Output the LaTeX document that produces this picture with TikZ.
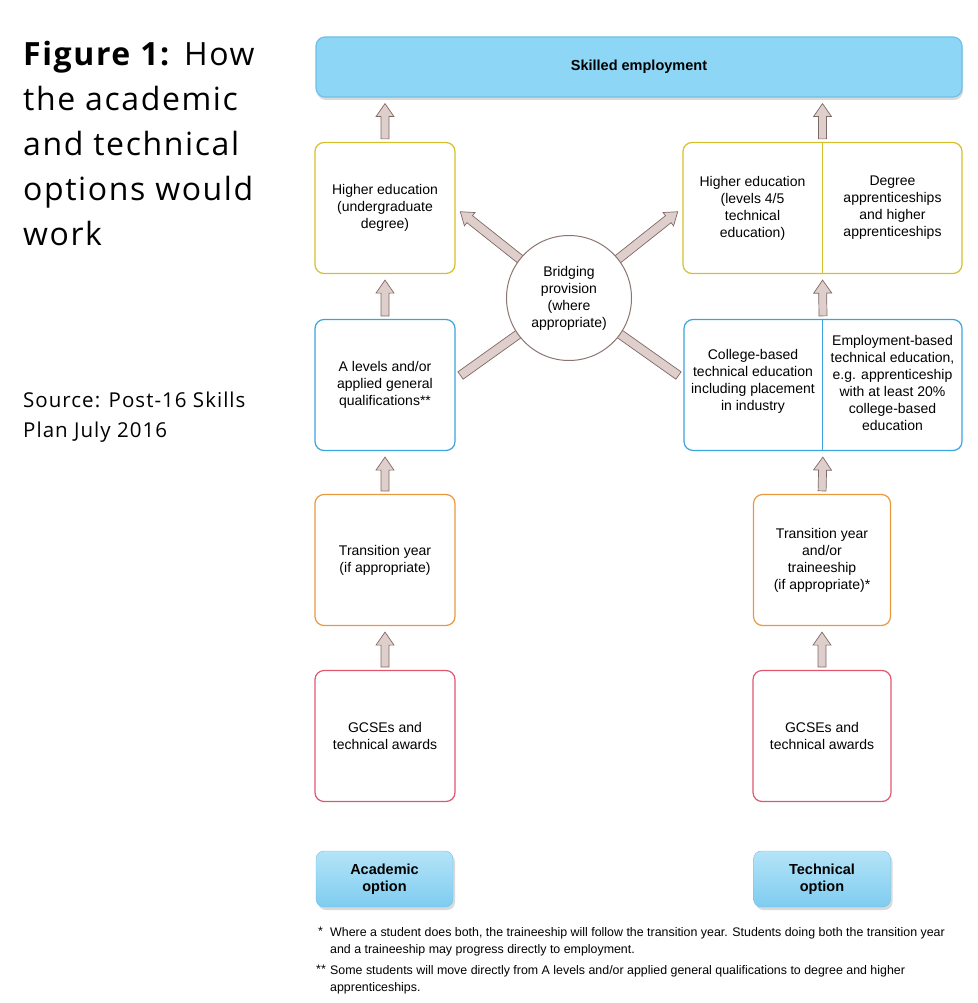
\documentclass[tikz,border=0pt]{standalone}
\usepackage{fontspec}
\setmainfont{Liberation Sans}
\newfontfamily\capfont[LetterSpace=5]{Open Sans}
\usetikzlibrary{positioning,calc,shadows}

\definecolor{skyfill}{RGB}{142,214,246}
\definecolor{skyline}{RGB}{112,192,232}
\definecolor{optop}{RGB}{180,228,248}
\definecolor{opbot}{RGB}{126,204,240}
\definecolor{heyel}{RGB}{214,192,42}
\definecolor{alblue}{RGB}{58,164,220}
\definecolor{trorange}{RGB}{234,152,62}
\definecolor{gcred}{RGB}{224,86,110}
\definecolor{arrfill}{RGB}{222,207,204}
\definecolor{arrline}{RGB}{128,104,100}
\definecolor{circline}{RGB}{140,116,112}

\tikzset{
  stage/.style={draw, rounded corners=9pt, line width=1.2pt, minimum width=140pt,
    minimum height=131pt, align=center, font=\fontsize{14}{17}\selectfont},
  cell/.style={align=center, font=\fontsize{14}{17}\selectfont},
  optbox/.style={rounded corners=8pt, draw=skyline, line width=0.4pt, top color=optop,
    bottom color=opbot, minimum width=137pt, minimum height=56pt, align=center,
    font=\bfseries\fontsize{14.5}{17}\selectfont,
    drop shadow={shadow xshift=2pt, shadow yshift=-3pt, opacity=0.3}},
  note/.style={anchor=north west, align=left, inner sep=0pt, font=\fontsize{12.4}{17}\selectfont},
  fatarrow/.style n args={5}{draw=arrline, fill=arrfill, line width=0.7pt,
    to path={let \p1=($(\tikztotarget)-(\tikztostart)$), \n1={atan2(\y1,\x1)},
      \n2={veclen(\x1,\y1)} in
      {[shift={(\tikztostart)}, rotate=\n1]
        (#4,-#1) -- ({\n2*1pt-#5-#3},-#1) -- ({\n2*1pt-#5-#3},-#2)
        -- ({\n2*1pt-#5},0pt) -- ({\n2*1pt-#5-#3},#2) -- ({\n2*1pt-#5-#3},#1)
        -- (#4,#1) -- cycle}}},
  uparr/.style={fatarrow={4pt}{9pt}{13pt}{3pt}{6pt}},
  diagarr/.style={fatarrow={4.5pt}{8.5pt}{12pt}{#1}{6pt}},
  diagarr/.default=0pt
}

\begin{document}
\begin{tikzpicture}[x=1pt,y=-1pt]
\useasboundingbox (0,0) rectangle (977,1003);

% caption and source
\node[anchor=north west, align=left, inner sep=0pt, font=\capfont\fontsize{32}{45}\selectfont]
  (cap) at (23,41) {\textbf{Figure 1:} How\\the academic\\and technical\\options would\\work};
\node[anchor=north west, align=left, inner sep=0pt, font=\capfont\fontsize{20.5}{30}\selectfont]
  (src) at (23,392) {Source: Post-16 Skills\\Plan July 2016};

% top
\node[stage, draw=skyline, fill=skyfill, minimum width=646pt, minimum height=60pt,
  font=\bfseries\fontsize{14.5}{17}\selectfont,
  drop shadow={shadow xshift=1pt, shadow yshift=-3pt, opacity=0.3}] (emp) at (639,67) {Skilled employment};

% academic column
\node[stage, draw=heyel] (heA) at (385,208) {Higher education\\(undergraduate\\degree)};
\node[stage, draw=alblue] (aLev) at (385,385) {A levels and/or\\applied general\\qualifications**};
\node[stage, draw=trorange] (trA) at (385,560) {Transition year\\(if appropriate)};
\node[stage, draw=gcred] (gcA) at (385,736) {GCSEs and\\technical awards};

% technical column
\node[stage, draw=heyel, minimum width=279pt] (heT) at (822.5,208) {};
\draw[heyel, line width=1.2pt] (heT.north) -- (heT.south);
\node[cell] (heT1) at (752.5,208) {Higher education\\(levels 4/5\\technical\\education)};
\node[cell] (heT2) at (892.5,208) {Degree\\apprenticeships\\and higher\\apprenticeships};
\node[stage, draw=alblue, minimum width=278pt] (colT) at (823,385) {};
\draw[alblue, line width=1.2pt] (colT.north -| heT.north) -- (colT.south -| heT.north);
\node[cell] (colT1) at (753,381) {College-based\\technical education\\including placement\\in industry};
\node[cell] (colT2) at (892.5,383) {Employment-based\\technical education,\\e.g. apprenticeship\\with at least 20\%\\college-based\\education};
\node[stage, draw=trorange, minimum width=137pt] (trT) at (822,560) {Transition year\\and/or\\traineeship\\(if appropriate)*};
\node[stage, draw=gcred, minimum width=138pt] (gcT) at (822,736) {GCSEs and\\technical awards};

% options
\node[optbox] (acad) at (384.5,879) {Academic\\option};
\node[optbox] (tech) at (822,879) {Technical\\option};

% up arrows
\coordinate (eA) at (heA.north |- emp.south);
\coordinate (eT) at (heT.north |- emp.south);
\foreach \a/\b in {heA.north/eA, aLev.north/heA.south, trA.north/aLev.south, gcA.north/trA.south,
  heT.north/eT, colT.north/heT.south, trT.north/colT.south, gcT.north/trT.south}
  \draw[uparr] (\a) to (\b);

% bridging
\coordinate (bc) at (569,298);
\draw[diagarr] (bc) to (heA.east);
\draw[diagarr] (bc) to (heT.west);
\draw[diagarr=6pt] ($(aLev.east)+(0,-6)$) to (bc);
\draw[diagarr=6pt] ($(colT.west)+(0,-6)$) to (bc);
\node[circle, draw=circline, fill=white, line width=1pt, minimum size=125pt, align=center,
  font=\fontsize{14}{17}\selectfont] (bridge) at (bc) {Bridging\\provision\\(where\\appropriate)};

% footnotes
\node[note] (s1) at (318,927) {*};
\node[note] (n1) at (330,927) {Where a student does both, the traineeship will follow the transition year. Students doing both the transition year\\and a traineeship may progress directly to employment.};
\node[note] (s2) at (316,965) {**};
\node[note] (n2) at (330,965) {Some students will move directly from A levels and/or applied general qualifications to degree and higher\\apprenticeships.};
\end{tikzpicture}
\end{document}
